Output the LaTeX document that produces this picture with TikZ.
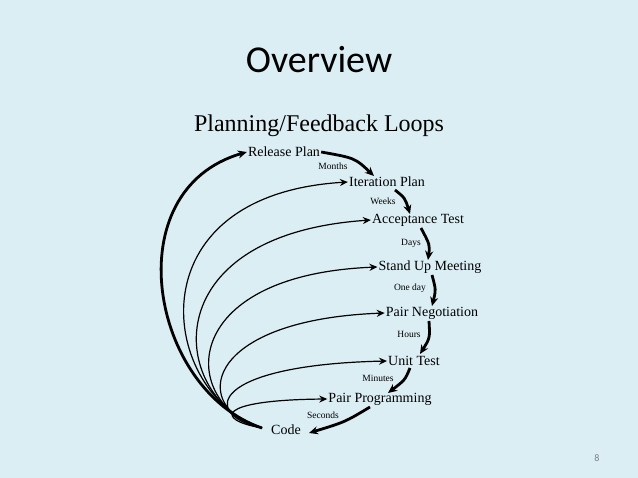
\documentclass[tikz,border=0pt]{standalone}
\usepackage{fontspec}
\setmainfont{Liberation Serif}
\newfontfamily\titlefont{Carlito}
\usetikzlibrary{arrows.meta}
\begin{document}
\begin{tikzpicture}[x=1pt,y=-1pt,
  item/.style={font=\fontsize{14}{16}\selectfont, inner sep=1pt},
  small/.style={font=\fontsize{9.5}{11}\selectfont, inner sep=1pt},
  thick arrow/.style={line width=2.8pt,-{Stealth[length=9pt,width=8pt]}},
  thin arrow/.style={line width=1.2pt,-{Stealth[length=8pt,width=7pt]}}]
\fill[fill={rgb,255:red,219;green,238;blue,244}] (0,0) rectangle (638,478);
\node[font=\titlefont\fontsize{38}{42}\selectfont] (title) at (319,60) {Overview};
\node[font=\fontsize{24}{27}\selectfont] (sub) at (319,126) {Planning/Feedback Loops};
\node[item] (rp) at (284,152) {Release Plan};
\node[small] (l1) at (333,166) {Months};
\node[item] (ip) at (387,182) {Iteration Plan};
\node[small] (l2) at (383,201) {Weeks};
\node[item] (at) at (418,220) {Acceptance Test};
\node[small] (l3) at (411,243) {Days};
\node[item] (su) at (430,267) {Stand Up Meeting};
\node[small] (l4) at (410,288) {One day};
\node[item] (pn) at (432,313) {Pair Negotiation};
\node[small] (l5) at (409,334) {Hours};
\node[item] (ut) at (414,361) {Unit Test};
\node[small] (l6) at (378,378) {Minutes};
\node[item] (pp) at (380,399) {Pair Programming};
\node[small] (l7) at (323,415) {Seconds};
\node[item] (cd) at (286,430) {Code};
\coordinate (o) at (262,428);
% thick chain
\draw[thick arrow] (rp.east) .. controls (355,158) .. (374,176);
\draw[thick arrow] (395,190) .. controls (405,198) .. (410,214);
\draw[thick arrow] (421,228) .. controls (430,245) .. (428,260);
\draw[thick arrow] (432,275) .. controls (436,290) .. (432,306);
\draw[thick arrow] (429,321) .. controls (430,338) .. (420,354);
\draw[thick arrow] (410,368) .. controls (405,380) .. (388,393);
\draw[thick arrow] (370,407) .. controls (345,422) .. (309,433);
% loops
\draw[thick arrow] (o) .. controls (150,390) and (115,190) .. (rp.west);
\draw[thin arrow] (o) .. controls (160,395) and (130,195) .. (ip.west);
\draw[thin arrow] (o) .. controls (170,400) and (150,235) .. (at.west);
\draw[thin arrow] (o) .. controls (180,405) and (175,275) .. (su.west);
\draw[thin arrow] (o) .. controls (190,410) and (200,320) .. (pn.west);
\draw[thin arrow] (o) .. controls (200,415) and (210,365) .. (ut.west);
\draw[thin arrow] (o) .. controls (215,420) and (215,400) .. (pp.west);
\node[font=\titlefont\fontsize{10}{11}\selectfont, text=gray] (pg) at (597,458) {8};
\end{tikzpicture}
\end{document}
